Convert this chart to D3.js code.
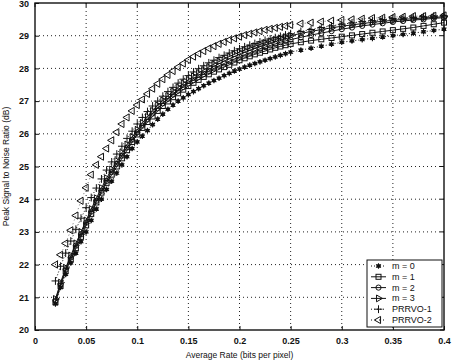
<!DOCTYPE html>
<html><head><meta charset="utf-8">
<script src="https://cdn.jsdelivr.net/npm/d3@7/dist/d3.min.js"></script>
<style>body{margin:0;background:#fff}svg{display:block}</style>
</head><body>
<svg id="c" width="474" height="364"></svg>
<script>
const xs = [0.02,0.025,0.03,0.035,0.04,0.045,0.05,0.055,0.06,0.065,0.07,0.075,0.08,0.085,0.09,0.095,0.1,0.105,0.11,0.115,0.12,0.125,0.13,0.135,0.14,0.145,0.15,0.155,0.16,0.165,0.17,0.175,0.18,0.185,0.19,0.195,0.2,0.205,0.21,0.215,0.22,0.225,0.23,0.235,0.24,0.245,0.25,0.26,0.27,0.28,0.29,0.3,0.31,0.32,0.33,0.34,0.35,0.36,0.37,0.38,0.39,0.4];
const m0 = [20.8,21.3,21.7,22.05,22.35,22.7,23.0,23.35,23.7,24.0,24.3,24.55,24.8,25.05,25.3,25.55,25.75,25.93,26.1,26.28,26.45,26.6,26.75,26.88,27.0,27.1,27.2,27.29,27.38,27.47,27.55,27.63,27.7,27.78,27.85,27.92,27.98,28.04,28.1,28.15,28.2,28.25,28.3,28.35,28.4,28.45,28.5,28.56,28.62,28.68,28.74,28.8,28.84,28.88,28.92,28.96,29.0,29.04,29.08,29.12,29.16,29.2];
const m1 = [20.85,21.35,21.8,22.15,22.5,22.85,23.2,23.55,23.9,24.2,24.5,24.75,25.0,25.25,25.5,25.75,25.98,26.18,26.36,26.53,26.7,26.85,26.99,27.12,27.24,27.35,27.46,27.56,27.65,27.74,27.82,27.9,27.97,28.04,28.11,28.18,28.25,28.31,28.37,28.43,28.48,28.53,28.58,28.63,28.67,28.71,28.75,28.8,28.85,28.89,28.93,28.97,29.01,29.05,29.09,29.13,29.17,29.21,29.25,29.3,29.35,29.4];
const m2 = [20.9,21.4,21.85,22.22,22.58,22.93,23.28,23.62,23.95,24.26,24.56,24.83,25.08,25.33,25.58,25.82,26.05,26.25,26.44,26.62,26.78,26.93,27.07,27.2,27.32,27.43,27.54,27.64,27.74,27.83,27.92,28.0,28.08,28.15,28.22,28.29,28.36,28.42,28.48,28.54,28.6,28.65,28.7,28.75,28.8,28.84,28.88,28.95,29.02,29.08,29.14,29.2,29.25,29.3,29.34,29.38,29.42,29.45,29.48,29.5,29.53,29.55];
const m3 = [20.95,21.45,21.9,22.28,22.65,23.0,23.35,23.7,24.03,24.34,24.64,24.91,25.17,25.42,25.67,25.9,26.12,26.33,26.52,26.7,26.87,27.02,27.16,27.3,27.42,27.54,27.65,27.76,27.86,27.95,28.04,28.13,28.21,28.29,28.36,28.43,28.5,28.56,28.62,28.68,28.73,28.78,28.83,28.88,28.92,28.96,29.0,29.07,29.13,29.19,29.24,29.29,29.33,29.37,29.41,29.44,29.47,29.5,29.52,29.54,29.56,29.58];
const prrvo1 = [21.5,21.95,22.35,22.72,23.08,23.42,23.74,24.05,24.34,24.62,24.89,25.14,25.38,25.62,25.86,26.08,26.3,26.5,26.68,26.85,27.0,27.15,27.29,27.42,27.55,27.67,27.78,27.89,27.99,28.08,28.17,28.25,28.33,28.4,28.47,28.54,28.6,28.66,28.71,28.76,28.81,28.86,28.9,28.94,28.98,29.02,29.06,29.13,29.19,29.25,29.3,29.35,29.39,29.43,29.46,29.49,29.52,29.54,29.56,29.58,29.6,29.61];
const prrvo2 = [22.0,22.3,22.65,23.05,23.5,23.95,24.35,24.75,25.05,25.3,25.55,25.8,26.05,26.3,26.5,26.7,26.88,27.05,27.22,27.38,27.53,27.67,27.8,27.92,28.04,28.15,28.26,28.36,28.45,28.53,28.61,28.68,28.75,28.81,28.87,28.92,28.97,29.02,29.06,29.1,29.14,29.18,29.21,29.24,29.27,29.3,29.33,29.37,29.4,29.43,29.46,29.48,29.5,29.52,29.54,29.55,29.57,29.58,29.6,29.6,29.61,29.62];
const seriesNames = ["m = 0","m = 1","m = 2","m = 3","PRRVO-1","PRRVO-2"];
const xTicks = [0,0.05,0.1,0.15,0.2,0.25,0.3,0.35,0.4];
const xTickLabels = ["0","0.05","0.1","0.15","0.2","0.25","0.3","0.35","0.4"];
const yTicks = [20,21,22,23,24,25,26,27,28,29,30];
const xTitle = "Average Rate (bits per pixel)";
const yTitle = "Peak Signal to Noise Ratio (dB)";

const seriesVals = [m0,m1,m2,m3,prrvo1,prrvo2];
const styles = [
  {marker:"star", dash:"1,2"},
  {marker:"square", dash:null},
  {marker:"circle", dash:null},
  {marker:"tri-right", dash:null},
  {marker:"plus", dash:"1,2"},
  {marker:"tri-left", dash:"1,3"}
];

const L=35, R=444, T=3, B=330;
const svg = d3.select("#c");
const font = "'Liberation Sans', Arial, sans-serif";
const x = d3.scaleLinear().domain([0,0.4]).range([L,R]);
const y = d3.scaleLinear().domain([20,30]).range([B,T]);

// grid
const g = svg.append("g");
g.selectAll(".gx").data(xTicks.slice(1,-1)).enter().append("line")
  .attr("x1",d=>x(d)).attr("x2",d=>x(d)).attr("y1",T).attr("y2",B)
  .attr("stroke","#222").attr("stroke-width",1).attr("stroke-dasharray","1,3");
g.selectAll(".gy").data(yTicks.slice(1,-1)).enter().append("line")
  .attr("y1",d=>y(d)).attr("y2",d=>y(d)).attr("x1",L).attr("x2",R)
  .attr("stroke","#222").attr("stroke-width",1).attr("stroke-dasharray","1,3");

// axes
const xAxis = d3.axisBottom(x).tickValues(xTicks).tickFormat((d,i)=>xTickLabels[i]).tickSize(-4).tickPadding(8);
const yAxis = d3.axisLeft(y).tickValues(yTicks).tickFormat(d3.format("d")).tickSize(-4).tickPadding(6);
const ax = svg.append("g").attr("transform",`translate(0,${B})`).call(xAxis);
const ay = svg.append("g").attr("transform",`translate(${L},0)`).call(yAxis);
[ax,ay].forEach(a=>{
  a.select(".domain").remove();
  a.selectAll("line").attr("stroke","#111");
  a.selectAll("text").attr("font-family",font).attr("font-size",9).attr("fill","#111").attr("font-weight","bold");
});
// keep the top label inside the picture
ay.selectAll(".tick").filter(d=>d===30).select("text").attr("dy","0.72em").attr("y",0);
ay.selectAll(".tick").filter(d=>d===30).select("text").attr("transform","translate(0,-3)");
// right/top ticks
svg.selectAll(".tr").data(yTicks).enter().append("line")
  .attr("x1",R).attr("x2",R-4).attr("y1",d=>y(d)).attr("y2",d=>y(d)).attr("stroke","#111");
svg.selectAll(".tt").data(xTicks).enter().append("line")
  .attr("y1",T).attr("y2",T+4).attr("x1",d=>x(d)).attr("x2",d=>x(d)).attr("stroke","#111");
svg.append("rect").attr("x",L).attr("y",T).attr("width",R-L).attr("height",B-T)
  .attr("fill","none").attr("stroke","#111").attr("stroke-width",1.4);

// titles
svg.append("text").attr("x",(L+R)/2).attr("y",358).attr("text-anchor","middle")
  .attr("font-family",font).attr("font-size",8.5).attr("fill","#111").text(xTitle);
svg.append("text").attr("transform",`translate(9,${(T+B)/2}) rotate(-90)`).attr("text-anchor","middle")
  .attr("font-family",font).attr("font-size",8.5).attr("fill","#111").text(yTitle);

function drawMarker(sel, type){
  if(type==="star"){
    sel.append("circle").attr("r",2).attr("fill","#111");
    sel.append("path").attr("d",d3.symbol(d3.symbolAsterisk,22)()).attr("fill","none").attr("stroke","#111").attr("stroke-width",1.1);
  } else if(type==="square"){
    sel.append("rect").attr("x",-2.5).attr("y",-2.5).attr("width",5).attr("height",5).attr("fill","none").attr("stroke","#111").attr("stroke-width",1);
  } else if(type==="circle"){
    sel.append("circle").attr("r",2.6).attr("fill","none").attr("stroke","#111").attr("stroke-width",1);
  } else if(type==="tri-right"){
    sel.append("path").attr("d",d3.symbol(d3.symbolTriangle,20)()).attr("transform","rotate(90)").attr("fill","none").attr("stroke","#111").attr("stroke-width",1);
  } else if(type==="tri-left"){
    sel.append("path").attr("d",d3.symbol(d3.symbolTriangle,22)()).attr("transform","rotate(-90)").attr("fill","none").attr("stroke","#111").attr("stroke-width",1);
  } else if(type==="plus"){
    sel.append("path").attr("d",d3.symbol(d3.symbolPlus,22)()).attr("fill","none").attr("stroke","#111").attr("stroke-width",1);
  }
}

const line = d3.line().x(d=>x(d[0])).y(d=>y(d[1]));
const plot = svg.append("g");
seriesVals.forEach((vals,i)=>{
  const pts = xs.map((xv,j)=>[xv,vals[j]]);
  const p = plot.append("path").datum(pts).attr("d",line).attr("fill","none")
    .attr("stroke","#111").attr("stroke-width",i===5?0.6:1);
  if(styles[i].dash) p.attr("stroke-dasharray",styles[i].dash);
  pts.forEach(pt=>{
    const m = plot.append("g").attr("transform",`translate(${x(pt[0])},${y(pt[1])})`);
    drawMarker(m, styles[i].marker);
  });
});

// legend
const lg = svg.append("g");
lg.append("rect").attr("x",367).attr("y",260).attr("width",75).attr("height",67)
  .attr("fill","#fff").attr("stroke","#111").attr("stroke-width",1);
seriesNames.forEach((nm,i)=>{
  const yy = 266 + i*10.8;
  const l = lg.append("line").attr("x1",371).attr("x2",386).attr("y1",yy).attr("y2",yy).attr("stroke","#111");
  if(styles[i].dash) l.attr("stroke-dasharray",styles[i].dash);
  const m = lg.append("g").attr("transform",`translate(378.5,${yy})`);
  drawMarker(m, styles[i].marker);
  lg.append("text").attr("x",392).attr("y",yy+3).attr("font-family",font).attr("font-size",9)
    .attr("fill","#111").text(nm);
});
</script>
</body></html>
